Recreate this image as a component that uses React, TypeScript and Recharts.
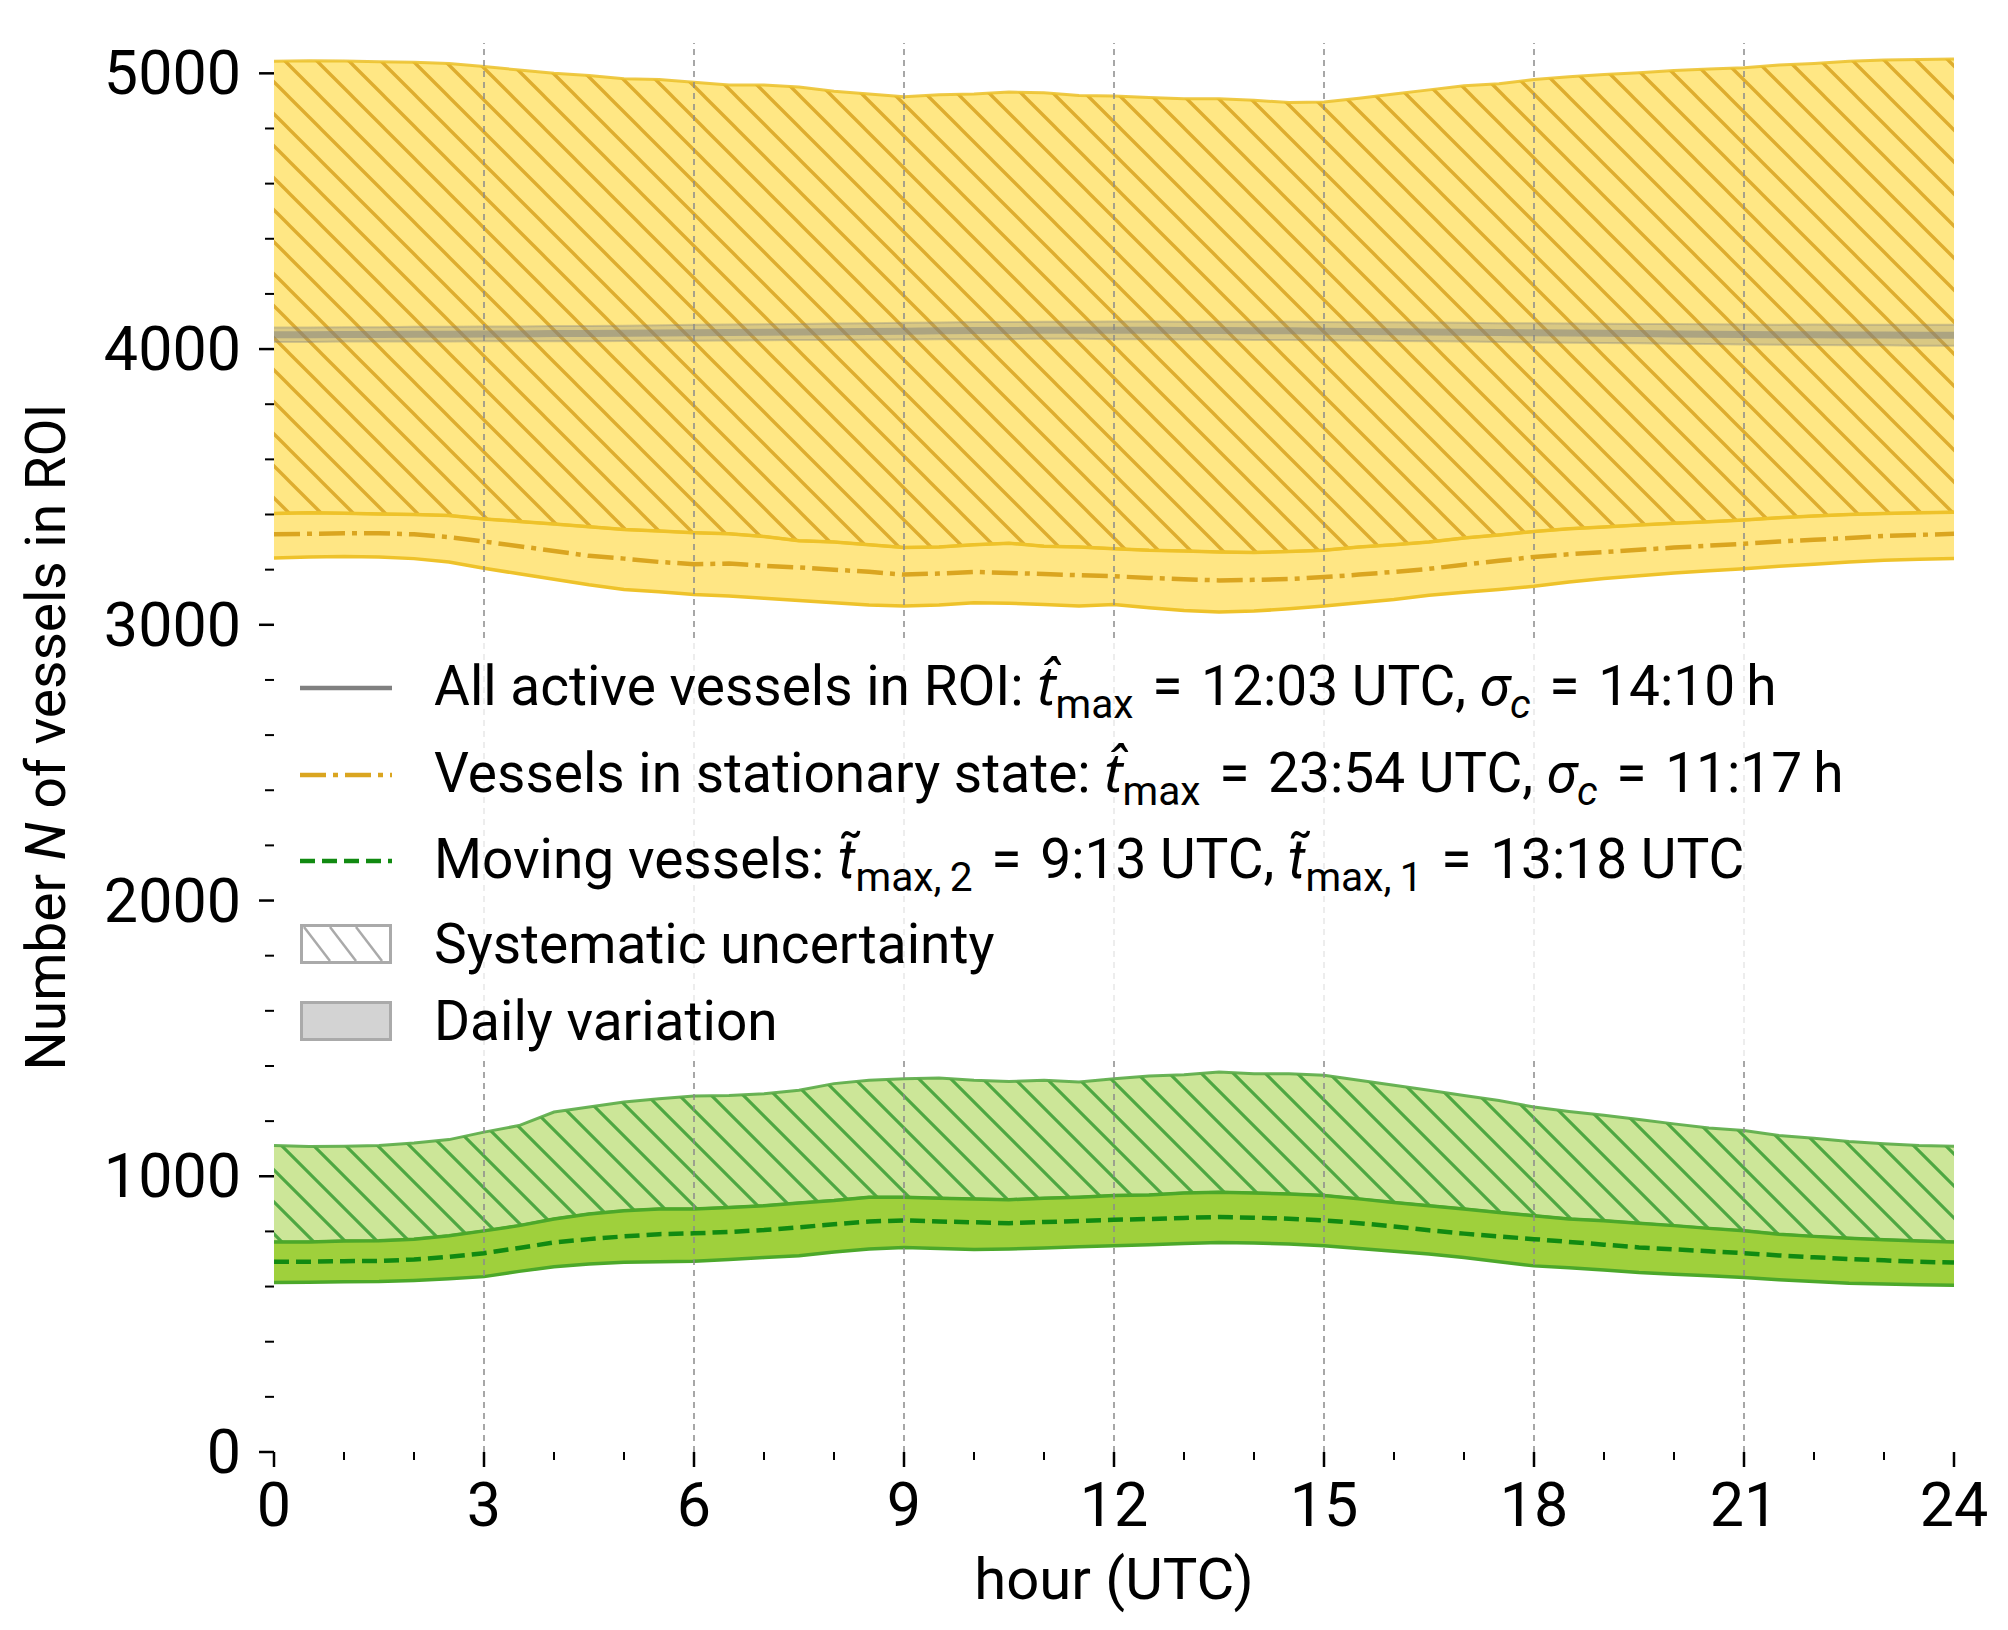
import React from 'react';
import { ComposedChart, Area, Line, XAxis, YAxis, ReferenceLine } from 'recharts';

// hour of day (UTC), half-hour steps
const HOURS = [0, 0.5, 1, 1.5, 2, 2.5, 3, 3.5, 4, 4.5, 5, 5.5, 6, 6.5, 7, 7.5, 8, 8.5, 9, 9.5, 10, 10.5, 11, 11.5, 12, 12.5, 13, 13.5, 14, 14.5, 15, 15.5, 16, 16.5, 17, 17.5, 18, 18.5, 19, 19.5, 20, 20.5, 21, 21.5, 22, 22.5, 23, 23.5, 24];

// vessels in stationary state
const STAT_SYS_HI = [5044, 5046, 5045, 5042, 5040, 5036, 5025, 5012, 5000, 4992, 4980, 4978, 4968, 4958, 4958, 4950, 4935, 4925, 4915, 4922, 4925, 4932, 4930, 4920, 4918, 4912, 4908, 4908, 4902, 4894, 4896, 4910, 4925, 4940, 4955, 4962, 4978, 4988, 4996, 5002, 5010, 5016, 5020, 5030, 5036, 5044, 5048, 5050, 5052];
const STAT_HI = [3404, 3406, 3405, 3402, 3400, 3396, 3384, 3375, 3366, 3356, 3346, 3340, 3334, 3330, 3320, 3305, 3300, 3290, 3280, 3282, 3290, 3296, 3285, 3282, 3276, 3270, 3268, 3264, 3262, 3266, 3270, 3282, 3290, 3300, 3315, 3326, 3338, 3348, 3355, 3362, 3368, 3374, 3380, 3388, 3395, 3400, 3404, 3406, 3408];
const STAT_MID = [3328, 3330, 3332, 3332, 3328, 3318, 3302, 3285, 3268, 3250, 3240, 3228, 3220, 3222, 3214, 3208, 3200, 3192, 3182, 3186, 3192, 3188, 3184, 3180, 3176, 3170, 3165, 3161, 3163, 3166, 3173, 3182, 3192, 3203, 3218, 3232, 3246, 3256, 3264, 3272, 3280, 3287, 3294, 3302, 3308, 3315, 3322, 3326, 3330];
const STAT_LO = [3242, 3246, 3248, 3246, 3240, 3228, 3205, 3185, 3165, 3145, 3128, 3120, 3110, 3104, 3096, 3088, 3080, 3072, 3068, 3072, 3080, 3078, 3074, 3068, 3074, 3062, 3052, 3046, 3050, 3058, 3068, 3080, 3092, 3107, 3118, 3128, 3140, 3155, 3168, 3178, 3188, 3196, 3203, 3212, 3220, 3228, 3234, 3238, 3240];

// all active vessels
const ALL_MID = [4052, 4052, 4053, 4053, 4054, 4054, 4055, 4055, 4056, 4056, 4057, 4058, 4059, 4060, 4061, 4062, 4063, 4064, 4065, 4066, 4067, 4067, 4068, 4068, 4068, 4068, 4067, 4067, 4066, 4066, 4065, 4064, 4063, 4062, 4061, 4060, 4059, 4058, 4057, 4056, 4055, 4054, 4053, 4052, 4052, 4051, 4051, 4050, 4050];
const ALL_ERR = [26, 26, 26, 26, 27, 27, 27, 27, 28, 28, 28, 28, 29, 29, 29, 29, 30, 30, 30, 30, 31, 31, 31, 31, 32, 32, 32, 32, 33, 33, 33, 33, 34, 34, 34, 34, 35, 35, 35, 35, 36, 36, 36, 36, 37, 37, 37, 38, 38];

// moving vessels
const MOV_SYS_HI = [1112, 1108, 1109, 1112, 1121, 1133, 1160, 1184, 1233, 1251, 1269, 1281, 1291, 1293, 1299, 1312, 1336, 1348, 1354, 1356, 1348, 1344, 1348, 1342, 1354, 1364, 1368, 1378, 1372, 1372, 1366, 1348, 1330, 1312, 1293, 1275, 1251, 1235, 1221, 1206, 1190, 1175, 1166, 1148, 1138, 1126, 1118, 1112, 1109];
const MOV_HI = [762, 762, 765, 766, 772, 784, 802, 821, 845, 863, 875, 881, 881, 887, 893, 903, 912, 924, 924, 920, 918, 915, 920, 924, 930, 932, 939, 942, 939, 936, 930, 918, 905, 893, 881, 869, 857, 845, 839, 830, 821, 811, 802, 790, 782, 775, 770, 765, 762];
const MOV_MID = [690, 690, 692, 693, 698, 708, 721, 740, 760, 772, 782, 790, 793, 798, 805, 815, 826, 836, 840, 836, 833, 830, 834, 838, 842, 845, 849, 852, 850, 846, 840, 830, 818, 804, 792, 782, 772, 762, 752, 742, 735, 728, 721, 713, 706, 700, 695, 690, 687];
const MOV_LO = [615, 616, 617, 618, 622, 628, 636, 655, 672, 682, 688, 690, 692, 698, 705, 712, 725, 736, 742, 738, 734, 736, 740, 744, 748, 752, 756, 760, 758, 754, 748, 738, 728, 718, 705, 690, 675, 668, 660, 651, 645, 639, 633, 625, 618, 612, 609, 607, 605];

const X_TICKS = [0, 1, 2, 3, 4, 5, 6, 7, 8, 9, 10, 11, 12, 13, 14, 15, 16, 17, 18, 19, 20, 21, 22, 23, 24];
const Y_TICKS = [0, 200, 400, 600, 800, 1000, 1200, 1400, 1600, 1800, 2000, 2200, 2400, 2600, 2800, 3000, 3200, 3400, 3600, 3800, 4000, 4200, 4400, 4600, 4800, 5000];
const GRID_HOURS = [3, 6, 9, 12, 15, 18, 21];

const data = HOURS.map((h, i) => ({
  h,
  statSys: [STAT_HI[i], STAT_SYS_HI[i]],
  statDaily: [STAT_LO[i], STAT_HI[i]],
  statMid: STAT_MID[i],
  allBand: [ALL_MID[i] - ALL_ERR[i], ALL_MID[i] + ALL_ERR[i]],
  allMid: ALL_MID[i],
  movSys: [MOV_HI[i], MOV_SYS_HI[i]],
  movDaily: [MOV_LO[i], MOV_HI[i]],
  movMid: MOV_MID[i],
}));

const FONT = 'Roboto, "Noto Sans", sans-serif';

function YTick(props: any) {
  const { x, y, payload } = props;
  const major = payload.value % 1000 === 0;
  return (
    <g>
      <line x1={x - (major ? 15 : 9)} x2={x} y1={y} y2={y} stroke="#000" strokeWidth={major ? 2.5 : 2} />
      {major && (
        <text x={x - 33} y={y} textAnchor="end" dominantBaseline="central" fontSize={61} fill="#000" fontFamily={FONT}>
          {payload.value}
        </text>
      )}
    </g>
  );
}

function XTick(props: any) {
  const { x, y, payload } = props;
  const major = payload.value % 3 === 0;
  return (
    <g>
      <line x1={x} x2={x} y1={y} y2={y + (major ? 15 : 8)} stroke="#000" strokeWidth={major ? 2.5 : 2} />
      {major && (
        <text x={x} y={y + 53} textAnchor="middle" dominantBaseline="central" fontSize={61} fill="#000" fontFamily={FONT}>
          {payload.value}
        </text>
      )}
    </g>
  );
}

const Sub = ({ children }: { children: React.ReactNode }) => (
  <span style={{ fontSize: '0.74em', position: 'relative', top: '0.32em' }}>{children}</span>
);
const I = ({ children }: { children: React.ReactNode }) => <i>{children}</i>;
const Eq = () => <span style={{ margin: '0 0.34em' }}>=</span>;

function LineHandle({ color, dash }: { color: string; dash?: string }) {
  return (
    <svg width={92} height={40}>
      <line x1={0} x2={92} y1={20} y2={20} stroke={color} strokeWidth={4.5} strokeDasharray={dash} />
    </svg>
  );
}

function PatchHandle({ hatched }: { hatched: boolean }) {
  return (
    <svg width={92} height={40}>
      <rect x={1.5} y={1.5} width={89} height={37} fill={hatched ? '#fff' : '#d3d3d3'} stroke="#aaa" strokeWidth={3} />
      {hatched && (
        <g stroke="#aaa" strokeWidth={2.5}>
          <line x1={4} y1={3} x2={30} y2={37} />
          <line x1={30} y1={3} x2={56} y2={37} />
          <line x1={56} y1={3} x2={82} y2={37} />
        </g>
      )}
    </svg>
  );
}

function ChartLegend() {
  const rows: { top: number; handle: React.ReactNode; text: React.ReactNode }[] = [
    {
      top: 688,
      handle: <LineHandle color="#808080" />,
      text: <>All active vessels in ROI: <I>t&#770;</I><Sub>max</Sub><Eq />12:03 UTC, <I>σ</I><Sub><I>c</I></Sub><Eq />14:10&#8201;h</>,
    },
    {
      top: 775,
      handle: <LineHandle color="#daa520" dash="26 7 5 7" />,
      text: <>Vessels in stationary state: <I>t&#770;</I><Sub>max</Sub><Eq />23:54 UTC, <I>σ</I><Sub><I>c</I></Sub><Eq />11:17&#8201;h</>,
    },
    {
      top: 861,
      handle: <LineHandle color="#118a11" dash="15 7" />,
      text: <>Moving vessels: <I>t&#771;</I><Sub>max,&#8201;2</Sub><Eq />9:13 UTC, <I>t&#771;</I><Sub>max,&#8201;1</Sub><Eq />13:18 UTC</>,
    },
    { top: 944, handle: <PatchHandle hatched />, text: <>Systematic uncertainty</> },
    { top: 1021, handle: <PatchHandle hatched={false} />, text: <>Daily variation</> },
  ];
  return (
    <div style={{ position: 'absolute', left: 290, top: 640, width: 1630, height: 420, background: 'rgba(255,255,255,0.8)' }}>
      {rows.map((r, i) => (
        <div key={i} style={{ position: 'absolute', left: 10, top: r.top - 640 - 30, height: 60, display: 'flex', alignItems: 'center', whiteSpace: 'nowrap' }}>
          {r.handle}
          <span style={{ marginLeft: 42, fontSize: 55, fontFamily: FONT, color: '#000', lineHeight: '60px' }}>{r.text}</span>
        </div>
      ))}
    </div>
  );
}

export default function App() {
  return (
    <div style={{ position: 'absolute', left: 0, top: 0, width: 2008, height: 1630, background: '#fff', fontFamily: FONT }}>
      <ComposedChart width={2008} height={1630} data={data} margin={{ top: 43, right: 54, bottom: 78, left: 174 }}>
        <defs>
          <pattern id="hatchYellow" patternUnits="userSpaceOnUse" width={32} height={32}>
            <rect width={32} height={32} fill="#ffd21f" fillOpacity={0.55} />
            <path d="M-4,-4 L36,36 M-4,28 L4,36 M28,-4 L36,4" stroke="#dba826" strokeOpacity={0.9} strokeWidth={3.4} />
          </pattern>
          <pattern id="hatchGreen" patternUnits="userSpaceOnUse" width={32} height={32}>
            <rect width={32} height={32} fill="#9acd32" fillOpacity={0.5} />
            <path d="M-4,-4 L36,36 M-4,28 L4,36 M28,-4 L36,4" stroke="#48a43e" strokeOpacity={0.95} strokeWidth={3.2} />
          </pattern>
        </defs>
        <XAxis
          dataKey="h"
          type="number"
          domain={[0, 24]}
          ticks={X_TICKS}
          interval={0}
          height={100}
          axisLine={false}
          tickLine={false}
          tickSize={0}
          tickMargin={0}
          tick={(p: any) => <XTick {...p} />}
          label={{
            content: (p: any) => (
              <text x={p.viewBox.x + p.viewBox.width / 2} y={p.viewBox.y + 127} textAnchor="middle" dominantBaseline="central" fontSize={58} fontFamily={FONT} fill="#000">
                hour (UTC)
              </text>
            ),
          }}
        />
        <YAxis
          type="number"
          domain={[0, 5110]}
          ticks={Y_TICKS}
          interval={0}
          width={100}
          allowDataOverflow
          axisLine={false}
          tickLine={false}
          tickSize={0}
          tickMargin={0}
          tick={(p: any) => <YTick {...p} />}
          label={{
            content: () => (
              <text x={46} y={737} transform="rotate(-90 46 737)" textAnchor="middle" dominantBaseline="central" fontSize={55} fontFamily={FONT} fill="#000">
                Number <tspan fontStyle="italic">N</tspan> of vessels in ROI
              </text>
            ),
          }}
        />
        {GRID_HOURS.map((g) => (
          <ReferenceLine key={g} x={g} stroke="#8a8a8a" strokeWidth={1.5} strokeDasharray="6 5" />
        ))}

        <Area type="linear" dataKey="statSys" fill="url(#hatchYellow)" fillOpacity={1} stroke="#ebbf28" strokeOpacity={0.85} strokeWidth={3} isAnimationActive={false} />
        <Area type="linear" dataKey="statDaily" fill="#ffd21f" fillOpacity={0.55} stroke="#eec22a" strokeWidth={3.5} isAnimationActive={false} />
        <Area type="linear" dataKey="allBand" fill="#808080" fillOpacity={0.3} stroke="#808080" strokeOpacity={0.35} strokeWidth={2} isAnimationActive={false} />
        <Line type="linear" dataKey="allMid" stroke="#808080" strokeOpacity={0.5} strokeWidth={7} dot={false} isAnimationActive={false} />
        <Line type="linear" dataKey="statMid" stroke="#daa520" strokeWidth={4.5} strokeDasharray="26 7 5 7" dot={false} isAnimationActive={false} />

        <Area type="linear" dataKey="movSys" fill="url(#hatchGreen)" fillOpacity={1} stroke="#5aab46" strokeOpacity={0.9} strokeWidth={3} isAnimationActive={false} />
        <Area type="linear" dataKey="movDaily" fill="#9acd32" fillOpacity={0.95} stroke="#4ca82a" strokeWidth={3.5} isAnimationActive={false} />
        <Line type="linear" dataKey="movMid" stroke="#118a11" strokeWidth={4.5} strokeDasharray="15 7" dot={false} isAnimationActive={false} />
      </ComposedChart>
      <ChartLegend />
    </div>
  );
}
